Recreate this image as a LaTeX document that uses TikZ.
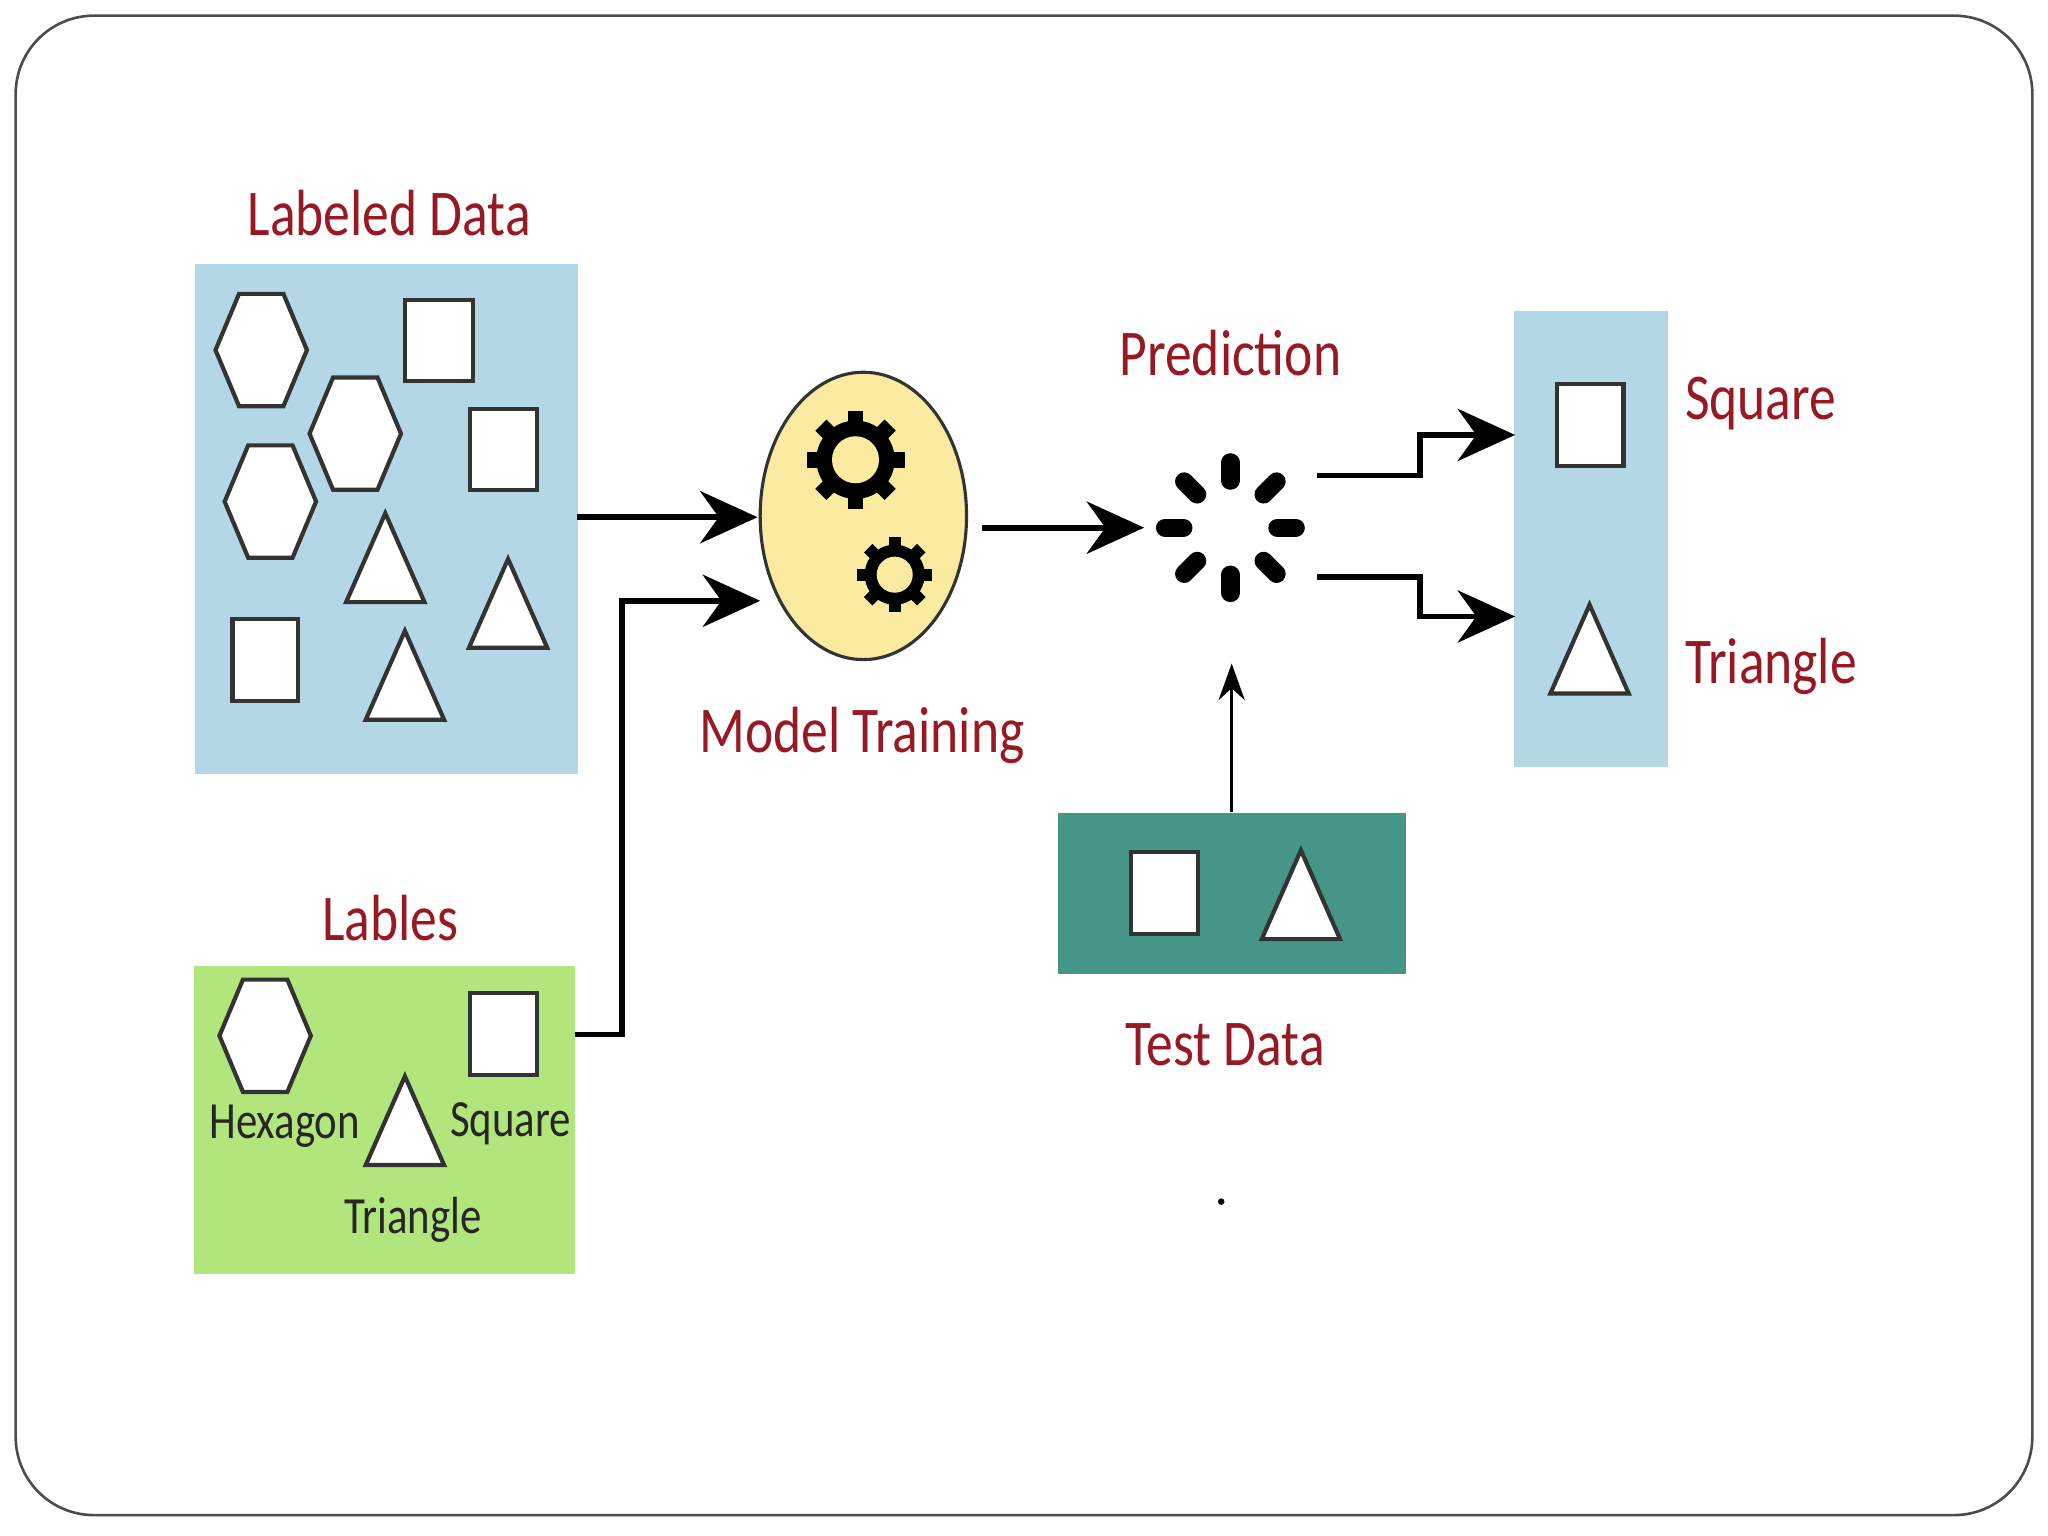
\documentclass[tikz,border=0pt]{standalone}
\usepackage{fontspec}
\setmainfont{Carlito}[FakeStretch=0.82]
\usetikzlibrary{arrows.meta,shapes.geometric,calc}
\definecolor{ttl}{RGB}{150,25,35}
\definecolor{lblue}{RGB}{180,215,230}
\definecolor{lgreen}{RGB}{178,230,125}
\definecolor{teal}{RGB}{70,150,135}
\definecolor{cream}{RGB}{250,235,160}
\tikzset{
  box/.style={draw=none,inner sep=0pt,anchor=north west},
  shp/.style={draw=black!80,fill=white,line width=1.6pt,line join=miter},
  ttl/.style={text=ttl,font=\fontsize{25}{25}\selectfont},
  lab/.style={text=black!85,font=\fontsize{20}{20}\selectfont},
  flow/.style={line width=2.2pt,-{Stealth[length=22pt,width=20pt]}},
}
\newcommand\hexat[2]{\draw[shp] (#1-35,#2) -- (#1-17,#2-43) -- (#1+17,#2-43) -- (#1+35,#2) -- (#1+17,#2+43) -- (#1-17,#2+43) -- cycle;}
\newcommand\sqat[4]{\draw[shp] (#1,#2) rectangle (#3,#4);}
\newcommand\triat[2]{\draw[shp] (#1,#2) -- (#1+30,#2+68) -- (#1-30,#2+68) -- cycle;}
\newcommand\gearat[3]{%
  \fill (#1,#2) circle (#3);
  \foreach \a in {0,45,...,315}{\fill[rotate around={\a:(#1,#2)}] (#1-0.2*#3,#2) rectangle (#1+0.2*#3,#2-1.25*#3);}
  \fill[cream] (#1,#2) circle (0.6*#3);}
\begin{document}
\begin{tikzpicture}[x=0.5pt,y=-0.5pt]
\useasboundingbox (0,0) rectangle (1568,1176);
\draw[black!70,line width=1pt,rounded corners=30pt] (12,12) rectangle (1556,1160);
% labeled data
\node[box,fill=lblue,minimum width=293*0.5pt,minimum height=390*0.5pt] (ld) at (149,202) {};
\node[ttl] at (298,163) {Labeled Data};
\hexat{200}{268}\hexat{272}{332}\hexat{207}{384}
\sqat{310}{230}{362}{292}\sqat{360}{313}{411}{375}\sqat{178}{474}{228}{537}
\triat{295}{393}\triat{389}{428}\triat{310}{483}
% labels
\node[box,fill=lgreen,minimum width=292*0.5pt,minimum height=236*0.5pt] (lb) at (148,739) {};
\node[ttl] at (299,703) {Lables};
\hexat{203}{793}\sqat{360}{760}{411}{823}\triat{310}{824}
\node[lab] at (218,862) {Hexagon};
\node[lab] at (391,860) {Square};
\node[lab] at (316,934) {Triangle};
% model training
\node[draw=black!80,line width=1.2pt,fill=cream,ellipse,minimum width=158*0.5pt,minimum height=220*0.5pt,inner sep=0pt] (mt) at (661,395) {};
\gearat{655}{352}{30}
\gearat{685}{440}{23}
\node[ttl] at (660,563) {Model Training};
\coordinate (l1) at (442,396);
\coordinate (l2) at (440,792);
\coordinate (m1) at (580,396);
\coordinate (m2) at (582,460);
\draw[flow] (l1) -- (m1);
\draw[line width=2.2pt,-{Stealth[length=22pt,width=20pt]}] (l2) -| (476,460) -- (m2);
% prediction
\node[ttl] at (942,270) {Prediction};
\coordinate (pr) at (942,404);
\draw[flow] (752,404) -- (876,404);
\foreach \a in {0,45,...,315}
  \draw[line width=7pt,line cap=round] ($(pr)+(\a:50)$) -- ($(pr)+(\a:36)$);
% test data
\node[box,fill=teal,minimum width=266*0.5pt,minimum height=123*0.5pt] (td) at (810,622) {};
\sqat{866}{652}{917}{715}\triat{996}{651}
\node[ttl] at (938,800) {Test Data};
\draw[line width=1.2pt,-{Stealth[length=14pt,width=10pt]}] (943,622) -- (943,508);
% output
\node[box,fill=lblue,minimum width=118*0.5pt,minimum height=349*0.5pt] (out) at (1159,238) {};
\sqat{1192}{294}{1243}{357}\triat{1217}{463}
\node[ttl] at (1348,309) {Square};
\node[ttl] at (1356,510) {Triangle};
\draw[flow] (1008,364) -- (1087,364) -- (1087,333) -- (1160,333);
\draw[flow] (1008,442) -- (1087,442) -- (1087,472) -- (1160,472);
\fill (935,920) circle (2.5);
\end{tikzpicture}
\end{document}
